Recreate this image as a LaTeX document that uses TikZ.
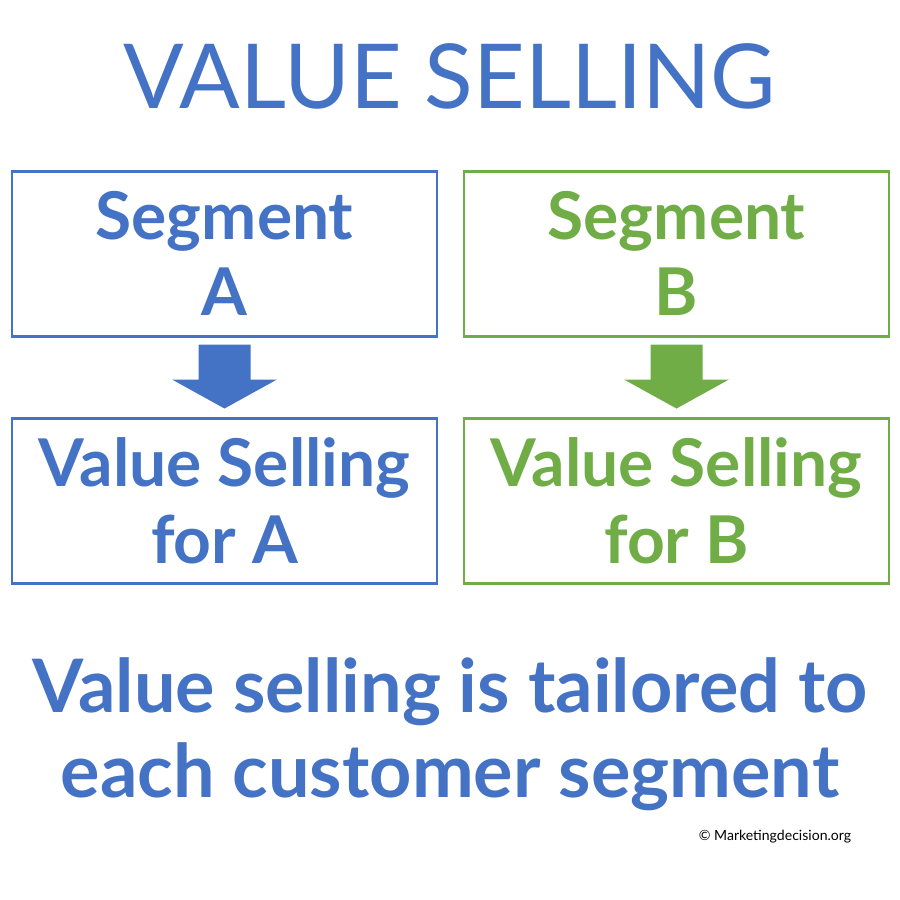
\documentclass[tikz,border=0pt]{standalone}
\usepackage{fontspec}
\setmainfont{Lato}
\usepackage{xcolor}
\usetikzlibrary{calc}
\definecolor{vsblue}{HTML}{4472C4}
\definecolor{vsgreen}{HTML}{70AD47}
\tikzset{
  segbox/.style={draw=#1, line width=1.7pt, minimum width=8.5cm, minimum height=3.3cm,
    align=center, text=#1, font=\bfseries\fontsize{37.5}{43.7}\selectfont},
}
\begin{document}
\begin{tikzpicture}
\useasboundingbox (0,0) rectangle (18,-18);

%title
\node[anchor=base, text=vsblue, font=\fontsize{51}{60}\selectfont] (title) at (9,-2.16) {VALUE SELLING};

%segment boxes
\node[segbox=vsblue] (segA) at (4.49,-5.07) {Segment\\A};
\node[segbox=vsgreen] (segB) at (13.53,-5.07) {Segment\\B};
\node[segbox=vsblue] (valA) at (4.49,-10.01) {Value Selling\\for A};
\node[segbox=vsgreen] (valB) at (13.53,-10.01) {Value Selling\\for B};

%block arrows
\fill[vsblue] ($(segA.south)+(-0.52,-0.14)$) -- ($(segA.south)+(0.52,-0.14)$) -- ($(segA.south)+(0.52,-0.84)$) -- ($(segA.south)+(1.05,-0.84)$) -- ($(valA.north)+(0,0.16)$) -- ($(segA.south)+(-1.05,-0.84)$) -- ($(segA.south)+(-0.52,-0.84)$) -- cycle;
\fill[vsgreen] ($(segB.south)+(-0.52,-0.14)$) -- ($(segB.south)+(0.52,-0.14)$) -- ($(segB.south)+(0.52,-0.84)$) -- ($(segB.south)+(1.05,-0.84)$) -- ($(valB.north)+(0,0.16)$) -- ($(segB.south)+(-1.05,-0.84)$) -- ($(segB.south)+(-0.52,-0.84)$) -- cycle;

%note
\node[anchor=base, text=vsblue, font=\bfseries\fontsize{42}{44}\selectfont] (note1) at (9,-14.24) {Value selling is tailored to};
\node[anchor=base, text=vsblue, font=\bfseries\fontsize{42}{44}\selectfont] (note2) at (9,-15.94) {each customer segment};

\node[anchor=base, font=\fontsize{8}{10}\selectfont] (copy) at (15.5,-16.8) {© Marketingdecision.org};

\end{tikzpicture}
\end{document}
